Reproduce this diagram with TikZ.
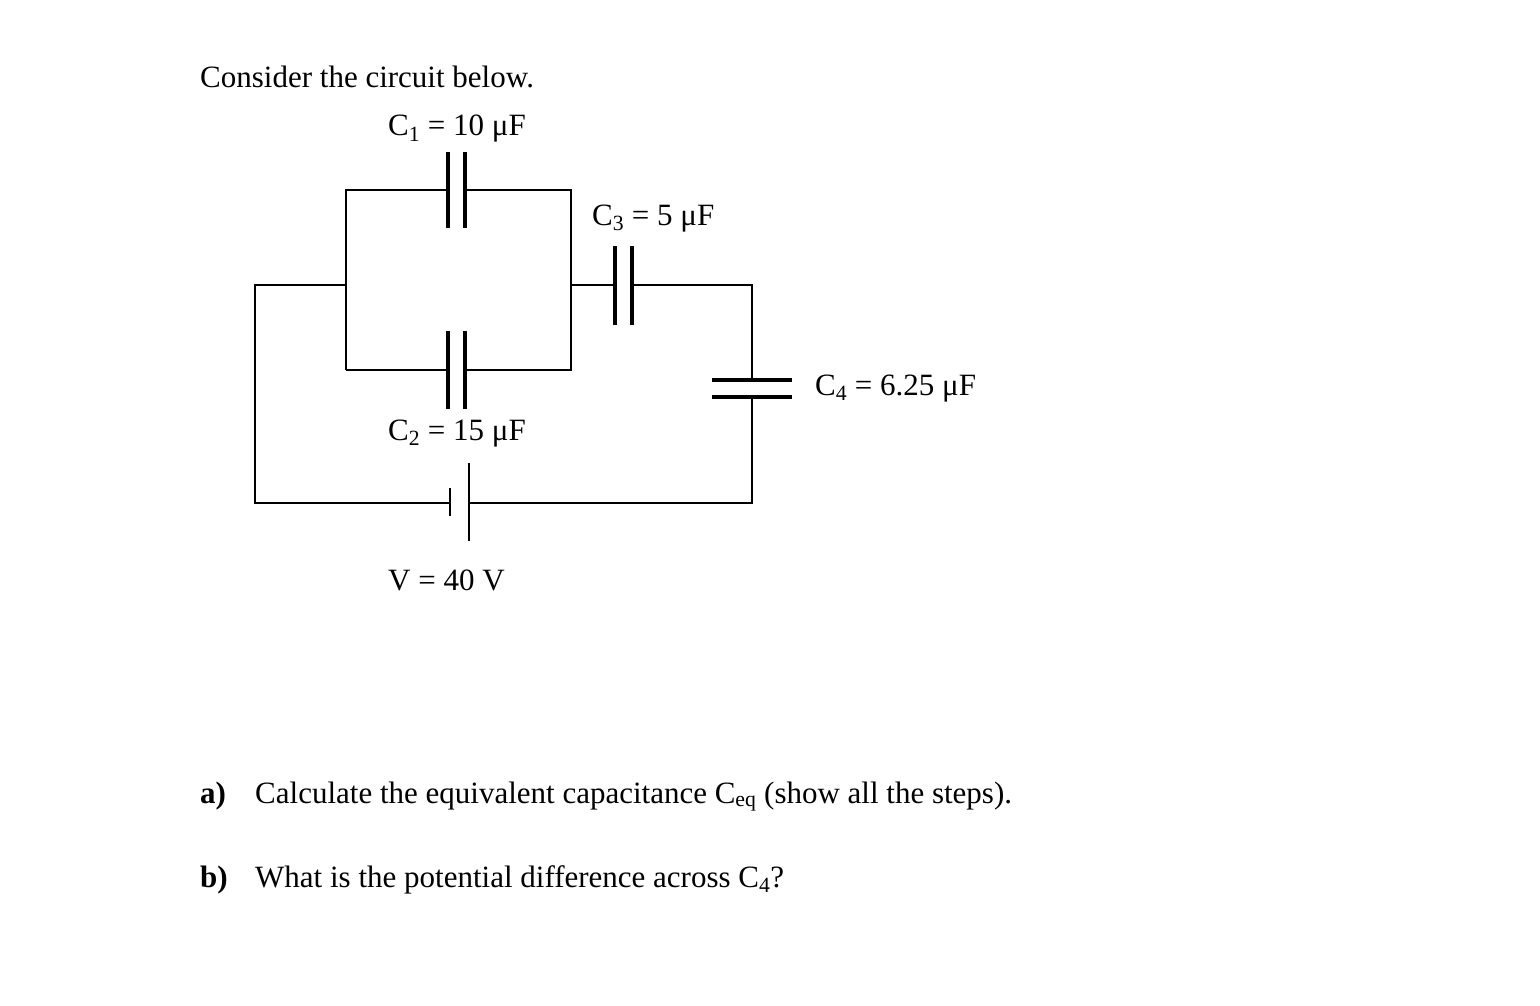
\documentclass[tikz,border=0pt]{standalone}
\usepackage{fontspec}
\setmainfont{Liberation Serif}
\begin{document}
\begin{tikzpicture}[x=1pt,y=-1pt,
  wire/.style={line width=1.6pt},
  plate/.style={line width=3.2pt},
  txt/.style={anchor=base west,inner sep=0pt,font=\fontsize{31}{36}\selectfont}]
\useasboundingbox (0,0) rectangle (1540,1006);
% coordinates
\coordinate (OL1) at (255,285); \coordinate (OL2) at (255,503);
\coordinate (IL1) at (346,190); \coordinate (IL2) at (346,370); \coordinate (ILm) at (346,285);
\coordinate (IR1) at (571,190); \coordinate (IR2) at (571,370); \coordinate (IRm) at (571,285);
\coordinate (R1) at (752,285); \coordinate (R2) at (752,503);
\coordinate (C1a) at (448,190); \coordinate (C1b) at (465,190);
\coordinate (C2a) at (448,370); \coordinate (C2b) at (465,370);
\coordinate (C3a) at (615,285); \coordinate (C3b) at (632,285);
\coordinate (C4a) at (752,380); \coordinate (C4b) at (752,397);
\coordinate (Ba) at (450,503); \coordinate (Bb) at (469,503);
% wires
\draw[wire] (IL2) -- (IL1) -- (C1a);
\draw[wire] (C1b) -- (IR1) -- (IR2) -- (C2b);
\draw[wire] (C2a) -- (IL2);
\draw[wire] (ILm) -- (OL1) -- (OL2) -- (Ba);
\draw[wire] (IRm) -- (C3a);
\draw[wire] (C3b) -- (R1) -- (C4a);
\draw[wire] (C4b) -- (R2) -- (Bb);
% plates
\draw[plate] ([yshift=-38]C1a) -- ([yshift=38]C1a);
\draw[plate] ([yshift=-38]C1b) -- ([yshift=38]C1b);
\draw[plate] ([yshift=-39]C2a) -- ([yshift=39]C2a);
\draw[plate] ([yshift=-39]C2b) -- ([yshift=39]C2b);
\draw[plate] ([yshift=-40]C3a) -- ([yshift=39]C3a);
\draw[plate] ([yshift=-40]C3b) -- ([yshift=39]C3b);
\draw[plate] ([xshift=-40]C4a) -- ([xshift=40]C4a);
\draw[plate] ([xshift=-40]C4b) -- ([xshift=40]C4b);
\draw[wire] ([yshift=-13]Ba) -- ([yshift=15]Ba);
\draw[wire] ([yshift=-38]Bb) -- ([yshift=40]Bb);
% texts
\node[txt] (t0) at (200,88) {Consider the circuit below.};
\node[txt] (l1) at (388,136) {C\textsubscript{1} = 10 μF};
\node[txt] (l3) at (592,225) {C\textsubscript{3} = 5 μF};
\node[txt] (l4) at (815,395) {C\textsubscript{4} = 6.25 μF};
\node[txt] (l2) at (388,440) {C\textsubscript{2} = 15 μF};
\node[txt] (lv) at (388,590) {V = 40 V};
\node[txt] (qa) at (200,803) {\textbf{a)}};
\node[txt] (qat) at (255,803) {Calculate the equivalent capacitance C\textsubscript{eq} (show all the steps).};
\node[txt] (qb) at (200,887) {\textbf{b)}};
\node[txt] (qbt) at (255,887) {What is the potential difference across C\textsubscript{4}?};
\end{tikzpicture}
\end{document}
